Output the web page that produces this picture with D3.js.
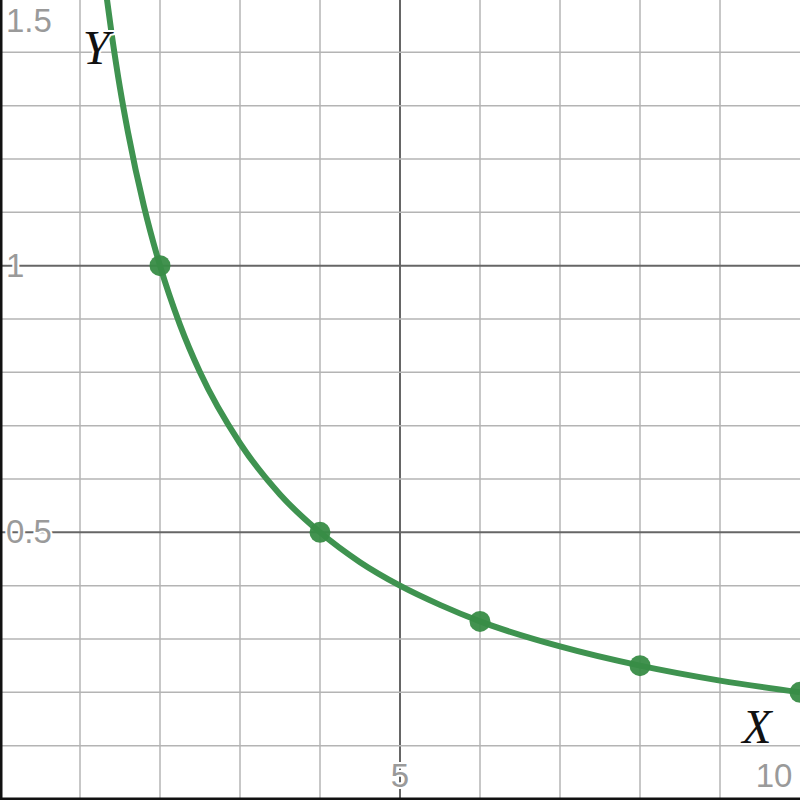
<!DOCTYPE html>
<html>
<head>
<meta charset="utf-8">
<script src="https://cdn.jsdelivr.net/npm/d3@7"></script>
<style>
  body { margin: 0; background: #fff; }
  svg { display: block; }
</style>
</head>
<body>
<svg width="800" height="800"></svg>
<script>
// curve samples
const curveX = [1.3, 1.4, 1.5, 1.6, 1.8, 2, 2.25, 2.5, 3, 3.5, 4, 4.5, 5, 5.5, 6, 7, 8, 9, 10]
const curveY = [1.54, 1.43, 1.333, 1.25, 1.111, 1.0, 0.889, 0.8, 0.667, 0.571, 0.5, 0.444, 0.4, 0.364, 0.333, 0.286, 0.25, 0.222, 0.2]

// marked points
const pointX = [2, 4, 6, 8, 10]
const pointY = [1.0, 0.5, 0.333, 0.25, 0.2]

const xTickLabels = ["5", "10"]
const yTickLabels = ["0.5", "1", "1.5"]

let svg = d3.select("svg")
let width = 800, height = 800

let x = d3.scaleLinear().domain([0, 10]).range([0, 800])
let y = d3.scaleLinear().domain([0, 1.5]).range([799, -1])

let isMajorY = d => Math.abs(d - 0.5) < 1e-9 || Math.abs(d - 1) < 1e-9

// grid
let grid = svg.append("g")
grid.selectAll(".vx")
    .data(d3.range(1, 10))
    .enter().append("line")
    .attr("x1", d => x(d)).attr("x2", d => x(d))
    .attr("y1", 0).attr("y2", height)
    .attr("stroke", d => d === 5 ? "#666" : "#b4b4b4")
    .attr("stroke-width", d => d === 5 ? 2 : 1.5)

grid.selectAll(".hy")
    .data(d3.range(1, 15).map(d => d / 10))
    .enter().append("line")
    .attr("y1", d => y(d)).attr("y2", d => y(d))
    .attr("x1", 0).attr("x2", width)
    .attr("stroke", d => isMajorY(d) ? "#666" : "#b4b4b4")
    .attr("stroke-width", d => isMajorY(d) ? 2 : 1.5)

// axes on the edges
svg.append("line").attr("x1", 1).attr("x2", 1).attr("y1", 0).attr("y2", height)
    .attr("stroke", "#111").attr("stroke-width", 3)
svg.append("line").attr("x1", 0).attr("x2", width).attr("y1", y(0)).attr("y2", y(0))
    .attr("stroke", "#111").attr("stroke-width", 3)

// tick labels
let labelStyle = function (sel) {
    sel.attr("font-family", "Arial, 'Liberation Sans', sans-serif")
        .attr("font-size", 33)
        .attr("fill", "#9a9a9a")
        .attr("stroke", "#fff")
        .attr("stroke-width", 4)
        .attr("paint-order", "stroke")
}
svg.selectAll(".xt")
    .data(xTickLabels)
    .enter().append("text")
    .attr("x", d => +d === 10 ? x(+d) - 26 : x(+d))
    .attr("y", 787)
    .attr("text-anchor", "middle")
    .call(labelStyle)
    .text(d => d)

svg.selectAll(".yt")
    .data(yTickLabels)
    .enter().append("text")
    .attr("x", 6)
    .attr("y", d => d === "1.5" ? 32 : y(+d) + 11)
    .call(labelStyle)
    .text(d => d)

// curve
svg.append("path")
    .datum(curveX.map((d, i) => [d, curveY[i]]))
    .attr("d", d3.line().x(d => x(d[0])).y(d => y(d[1])).curve(d3.curveMonotoneX))
    .attr("fill", "none")
    .attr("stroke", "#3f9350")
    .attr("stroke-width", 6)

svg.selectAll(".pt")
    .data(pointX)
    .enter().append("circle")
    .attr("cx", d => x(d))
    .attr("cy", (d, i) => y(pointY[i]))
    .attr("r", 10.5)
    .attr("fill", "#388c46")
    .attr("opacity", 0.95)

// axis titles
let titleStyle = function (sel) {
    sel.attr("font-family", "'Liberation Serif', 'DejaVu Serif', serif")
        .attr("font-style", "italic")
        .attr("font-size", 48)
        .attr("fill", "#111")
        .attr("stroke", "#fff")
        .attr("stroke-width", 4)
        .attr("paint-order", "stroke")
        .attr("text-anchor", "middle")
}
svg.append("text").attr("x", 96).attr("y", 64).call(titleStyle).text("Y")
svg.append("text").attr("x", 757).attr("y", 743).call(titleStyle).text("X")
</script>
</body>
</html>
